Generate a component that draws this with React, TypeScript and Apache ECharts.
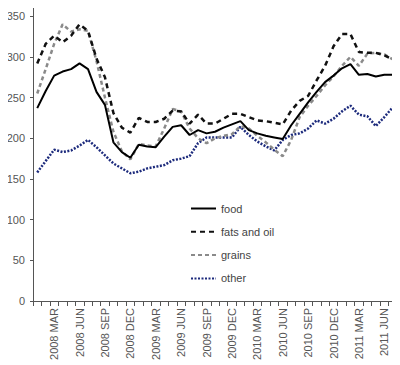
import React, { useEffect, useRef } from "react";
import * as echarts from "echarts";

const categories: string[] = [
  "2008 JAN", "2008 FEB", "2008 MAR", "2008 APR", "2008 MAY", "2008 JUN",
  "2008 JUL", "2008 AUG", "2008 SEP", "2008 OCT", "2008 NOV", "2008 DEC",
  "2009 JAN", "2009 FEB", "2009 MAR", "2009 APR", "2009 MAY", "2009 JUN",
  "2009 JUL", "2009 AUG", "2009 SEP", "2009 OCT", "2009 NOV", "2009 DEC",
  "2010 JAN", "2010 FEB", "2010 MAR", "2010 APR", "2010 MAY", "2010 JUN",
  "2010 JUL", "2010 AUG", "2010 SEP", "2010 OCT", "2010 NOV", "2010 DEC",
  "2011 JAN", "2011 FEB", "2011 MAR", "2011 APR", "2011 MAY", "2011 JUN",
  "2011 JUL",
];

const food: number[] = [
  237, 258, 277, 282, 285, 292, 285, 257, 241, 195, 183, 176,
  192, 190, 189, 202, 214, 216, 204, 210, 206, 208, 213, 217,
  221, 210, 206, 203, 201, 199, 216, 230, 244, 257, 269, 277,
  286, 291, 278, 279, 276, 278, 278,
];

const fatsAndOil: number[] = [
  292, 316, 326, 318, 326, 340, 332, 298, 275, 231, 213, 207,
  225, 220, 220, 224, 234, 233, 218, 229, 218, 218, 224, 230,
  230, 226, 222, 221, 219, 217, 234, 246, 252, 271, 289, 313,
  328, 328, 306, 305, 305, 302, 297,
];

const grains: number[] = [
  255, 285, 316, 340, 331, 334, 332, 295, 250, 208, 184, 174,
  193, 191, 190, 212, 236, 233, 212, 200, 194, 200, 203, 205,
  215, 212, 203, 195, 186, 178, 198, 226, 240, 252, 265, 276,
  289, 300, 289, 304, 305, 303, 297,
];

const other: number[] = [
  158, 172, 186, 183, 185, 191, 198, 189, 179, 169, 163, 157,
  159, 163, 165, 167, 173, 175, 178, 194, 201, 201, 201, 201,
  214, 204, 196, 190, 185, 198, 204, 206, 212, 222, 218, 224,
  233, 240, 229, 227, 215, 226, 238,
];

const yTicks: number[] = [0, 50, 100, 150, 200, 250, 300, 350];

export default function App() {
  const ref = useRef<HTMLDivElement>(null);

  useEffect(() => {
    if (!ref.current) return;
    const chart = echarts.init(ref.current, null, { renderer: "svg" });
    const font = "'Liberation Sans', Arial, sans-serif";
    chart.setOption({
      animation: false,
      backgroundColor: "#ffffff",
      textStyle: { fontFamily: font },
      grid: { left: 33, right: 3, top: 4, bottom: 64, containLabel: false },
      legend: {
        orient: "vertical",
        left: 185,
        top: 198,
        itemWidth: 25,
        itemHeight: 10,
        itemGap: 12.3,
        itemStyle: { opacity: 0 },
        textStyle: { fontSize: 11, color: "#444", fontFamily: font },
        data: ["food", "fats and oil", "grains", "other"],
      },
      xAxis: {
        type: "category",
        data: categories,
        boundaryGap: true,
        axisLine: { lineStyle: { color: "#555", width: 1 } },
        axisTick: {
          show: true,
          interval: 0,
          length: 5,
          lineStyle: { color: "#555" },
        },
        axisLabel: {
          interval: (i: number) => i % 3 === 2,
          rotate: 90,
          fontSize: 11,
          color: "#555",
          margin: 7,
          fontFamily: font,
        },
        splitLine: { show: false },
      },
      yAxis: {
        type: "value",
        min: 0,
        max: 365,
        interval: 50,
        axisLine: { show: true, lineStyle: { color: "#555", width: 1 } },
        axisTick: {
          show: true,
          length: 3,
          lineStyle: { color: "#555" },
          customValues: yTicks,
        },
        axisLabel: {
          fontSize: 11,
          color: "#555",
          margin: 8,
          fontFamily: font,
          customValues: yTicks,
        },
        splitLine: { show: false },
      },
      series: [
        {
          name: "other",
          type: "line",
          data: other,
          symbol: "none",
          lineStyle: { color: "#1c2a7c", width: 2.5, type: [2, 1.5] },
          itemStyle: { color: "#1c2a7c" },
          z: 2,
        },
        {
          name: "grains",
          type: "line",
          data: grains,
          symbol: "none",
          lineStyle: { color: "#8a8a8a", width: 2.5, type: [4, 3] },
          itemStyle: { color: "#8a8a8a" },
          z: 3,
        },
        {
          name: "fats and oil",
          type: "line",
          data: fatsAndOil,
          symbol: "none",
          lineStyle: { color: "#111", width: 2.5, type: [5, 4] },
          itemStyle: { color: "#111" },
          z: 4,
        },
        {
          name: "food",
          type: "line",
          data: food,
          symbol: "none",
          lineStyle: { color: "#000", width: 2 },
          itemStyle: { color: "#000" },
          z: 5,
        },
      ],
    });
    return () => chart.dispose();
  }, []);

  return <div ref={ref} style={{ width: 400, height: 365, marginLeft: -8, marginTop: -8 }} />;
}
